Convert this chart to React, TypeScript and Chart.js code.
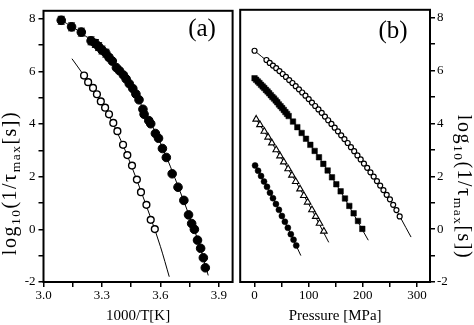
import React, { useEffect, useRef } from 'react';
import { Chart, registerables } from 'chart.js';

Chart.register(...registerables);

// ---------- Panel (a): temperature dependence ----------
const invTempFilled = [3.091, 3.144, 3.194, 3.244, 3.266, 3.283, 3.300, 3.320, 3.336, 3.353, 3.374, 3.390, 3.410, 3.424, 3.440, 3.458, 3.474, 3.490, 3.510, 3.516, 3.540, 3.550, 3.574, 3.590, 3.610, 3.630, 3.660, 3.690, 3.720, 3.744, 3.760, 3.774, 3.790, 3.806, 3.820, 3.830];
const logRateFilled = [7.94, 7.69, 7.49, 7.16, 7.06, 6.94, 6.81, 6.69, 6.53, 6.39, 6.14, 6.02, 5.86, 5.71, 5.53, 5.35, 5.14, 4.92, 4.56, 4.37, 4.13, 4.01, 3.64, 3.46, 3.07, 2.73, 2.11, 1.60, 1.10, 0.55, 0.22, 0.00, -0.41, -0.72, -1.08, -1.46];
const errFilled = [0.15, 0.15, 0.15, 0.15, 0.15, 0.15, 0.15, 0.15, 0.1, 0, 0, 0, 0, 0, 0, 0, 0, 0, 0, 0, 0, 0, 0, 0, 0, 0, 0, 0, 0, 0, 0, 0, 0, 0, 0, 0];
const invTempOpen = [3.208, 3.229, 3.254, 3.274, 3.294, 3.316, 3.336, 3.358, 3.379, 3.408, 3.430, 3.454, 3.479, 3.500, 3.528, 3.550, 3.571];
const logRateOpen = [5.84, 5.59, 5.37, 5.13, 4.86, 4.62, 4.37, 4.04, 3.73, 3.21, 2.82, 2.42, 1.89, 1.41, 0.93, 0.36, 0.01];
const fitFilledX = [3.09, 3.2, 3.3, 3.4, 3.5, 3.6, 3.7, 3.8, 3.845];
const fitFilledY = [7.95, 7.43, 6.80, 5.95, 4.75, 3.28, 1.45, -0.60, -1.75];
const fitOpenX = [3.146, 3.2, 3.3, 3.4, 3.5, 3.6, 3.645];
const fitOpenY = [6.48, 5.92, 4.80, 3.33, 1.45, -0.66, -1.80];

// ---------- Panel (b): pressure dependence ----------
const pressOpenCircle = [0, 22, 28, 34, 40, 46, 52, 58, 64, 70, 76, 82, 88, 94, 100, 106, 112, 118, 124, 130, 136, 142, 148, 154, 160, 166, 172, 178, 184, 190, 196, 202, 208, 214, 220, 226, 232, 238, 244, 250, 256, 262, 268];
const logOpenCircle = [6.75, 6.40, 6.29, 6.19, 6.09, 5.98, 5.87, 5.76, 5.64, 5.53, 5.41, 5.29, 5.17, 5.05, 4.92, 4.79, 4.66, 4.53, 4.40, 4.26, 4.12, 3.98, 3.84, 3.70, 3.55, 3.41, 3.26, 3.10, 2.95, 2.79, 2.64, 2.48, 2.32, 2.15, 1.99, 1.82, 1.65, 1.48, 1.30, 1.13, 0.92, 0.72, 0.48];
const pressSquare = [0, 3, 6, 9, 12, 15, 18, 21, 24, 27, 30, 33, 36, 39, 42, 45, 48, 51, 54, 57, 60, 63, 71, 79, 87, 95, 103, 111, 119, 127, 135, 143, 151, 159, 167, 175, 183, 191, 199];
const logSquare = [5.71, 5.65, 5.59, 5.53, 5.46, 5.40, 5.34, 5.27, 5.21, 5.14, 5.07, 5.00, 4.94, 4.87, 4.80, 4.72, 4.65, 4.58, 4.51, 4.43, 4.36, 4.28, 4.07, 3.86, 3.64, 3.42, 3.19, 2.96, 2.72, 2.47, 2.22, 1.96, 1.70, 1.43, 1.16, 0.88, 0.60, 0.31, 0.01];
const pressTriangle = [3, 10, 18, 25, 32, 40, 47, 54, 62, 69, 76, 84, 91, 98, 106, 113, 120, 128];
const logTriangle = [4.16, 3.95, 3.70, 3.48, 3.26, 3.00, 2.77, 2.54, 2.28, 2.04, 1.80, 1.52, 1.27, 1.02, 0.73, 0.48, 0.22, -0.08];
const pressFilledCircle = [1, 6.5, 12, 17.5, 23, 28.5, 34, 39.5, 45, 50.5, 56, 61.5, 67, 72, 77];
const logFilledCircle = [2.41, 2.21, 2.01, 1.80, 1.60, 1.38, 1.17, 0.95, 0.73, 0.50, 0.28, 0.05, -0.19, -0.40, -0.62];
const fitOpenCircleX = [0, 50, 100, 150, 200, 250, 289];
const fitOpenCircleY = [6.75, 5.90, 4.92, 3.80, 2.53, 1.13, -0.30];
const fitSquareX = [0, 50, 100, 150, 210];
const fitSquareY = [5.71, 4.60, 3.28, 1.73, -0.42];
const fitTriangleX = [3, 50, 100, 137];
const fitTriangleY = [4.16, 2.68, 0.95, -0.50];
const fitFilledCircleX = [1, 40, 60, 85.5];
const fitFilledCircleY = [2.41, 0.93, 0.11, -1.0];

// ---------- ticks ----------
const xTicksA = [3.0, 3.15, 3.3, 3.45, 3.6, 3.75, 3.9];
const xLabelsA = ['3.0', '', '3.3', '', '3.6', '', '3.9'];
const xTicksB = [0, 50, 100, 150, 200, 250, 300];
const xLabelsB = ['0', '', '100', '', '200', '', '300'];
const yTicks = [-2, -1, 0, 1, 2, 3, 4, 5, 6, 7, 8];
const yLabels = ['-2', '', '0', '', '2', '', '4', '', '6', '', '8'];

const FAM = "'Liberation Serif', 'DejaVu Serif', serif";
const zip = (xs: number[], ys: number[]) => xs.map((x, i) => ({ x, y: ys[i] }));

const titleSegs = [
  { t: 'log', sub: false },
  { t: '10', sub: true },
  { t: '(1/τ', sub: false },
  { t: 'max', sub: true },
  { t: '[s])', sub: false },
];

function drawRich(ctx: CanvasRenderingContext2D, cx: number, cy: number, rot: number, size: number, subSize: number, spacing: number) {
  ctx.save();
  ctx.translate(cx, cy);
  ctx.rotate(rot);
  ctx.fillStyle = '#000';
  ctx.textBaseline = 'alphabetic';
  ctx.textAlign = 'left';
  (ctx as any).letterSpacing = spacing + 'px';
  let total = 0;
  const widths = titleSegs.map((s) => {
    ctx.font = `${s.sub ? subSize : size}px ${FAM}`;
    const w = ctx.measureText(s.t).width;
    total += w;
    return w;
  });
  let x = -total / 2;
  titleSegs.forEach((s, i) => {
    ctx.font = `${s.sub ? subSize : size}px ${FAM}`;
    ctx.fillText(s.t, x, s.sub ? size * 0.22 : 0);
    x += widths[i];
  });
  ctx.restore();
}

function tickSetter(values: number[]) {
  return (scale: any) => {
    scale.ticks = values.map((v) => ({ value: v }));
  };
}

function axisCommon(labels: string[], values: number[]) {
  return {
    type: 'linear' as const,
    afterBuildTicks: tickSetter(values),
    border: { display: false },
    grid: { drawOnChartArea: false, drawTicks: true, tickLength: 5, color: '#000', lineWidth: 1.5 },
    ticks: {
      autoSkip: false,
      maxRotation: 0,
      color: '#000',
      font: { size: 13, family: FAM },
      callback: (_v: any, i: number) => labels[i],
    },
  };
}

function framePlugin(kind: 'a' | 'b') {
  return {
    id: 'frame' + kind,
    afterDatasetsDraw(chart: any) {
      if (kind !== 'a') return;
      const ctx = chart.ctx as CanvasRenderingContext2D;
      const xs = chart.scales.x;
      const ys = chart.scales.y;
      ctx.save();
      ctx.strokeStyle = '#000';
      ctx.lineWidth = 1;
      invTempFilled.forEach((xv, i) => {
        const e = errFilled[i];
        if (!e) return;
        const px = xs.getPixelForValue(xv);
        const top = ys.getPixelForValue(logRateFilled[i] + e);
        const bot = ys.getPixelForValue(logRateFilled[i] - e);
        ctx.beginPath();
        ctx.moveTo(px, top);
        ctx.lineTo(px, bot);
        ctx.moveTo(px - 3.5, top);
        ctx.lineTo(px + 3.5, top);
        ctx.moveTo(px - 3.5, bot);
        ctx.lineTo(px + 3.5, bot);
        ctx.stroke();
      });
      ctx.restore();
    },
    afterDraw(chart: any) {
      const ctx = chart.ctx as CanvasRenderingContext2D;
      const a = chart.chartArea;
      ctx.save();
      ctx.strokeStyle = '#000';
      ctx.lineWidth = 2;
      ctx.strokeRect(a.left, a.top, a.right - a.left, a.bottom - a.top);
      ctx.fillStyle = '#000';
      ctx.font = `25px ${FAM}`;
      ctx.textAlign = 'center';
      ctx.textBaseline = 'middle';
      if (kind === 'a') {
        ctx.fillText('(a)', 202, 29);
        ctx.restore();
        drawRich(ctx, 15.5, 183, -Math.PI / 2, 20, 13.5, 1.5);
      } else {
        ctx.fillText('(b)', 158, 31);
        ctx.restore();
        drawRich(ctx, 223, 187, Math.PI / 2, 20, 13.5, 1.5);
      }
    },
  };
}

const baseOptions = {
  animation: false as const,
  responsive: false,
  maintainAspectRatio: false,
  events: [] as any[],
  plugins: { legend: { display: false }, tooltip: { enabled: false } },
};

export default function App() {
  const refA = useRef<HTMLCanvasElement>(null);
  const refB = useRef<HTMLCanvasElement>(null);

  useEffect(() => {
    Chart.defaults.font.family = FAM;
    Chart.defaults.color = '#000';

    const chartA = new Chart(refA.current as HTMLCanvasElement, {
      type: 'scatter',
      data: {
        datasets: [
          { data: zip(invTempFilled, logRateFilled), pointStyle: 'circle', pointRadius: 4.3, backgroundColor: '#000', borderColor: '#000', borderWidth: 1 },
          { data: zip(invTempOpen, logRateOpen), pointStyle: 'circle', pointRadius: 3.4, backgroundColor: '#fff', borderColor: '#000', borderWidth: 1.4 },
          { data: zip(fitFilledX, fitFilledY), showLine: true, pointRadius: 0, borderColor: '#000', borderWidth: 1, cubicInterpolationMode: 'monotone' },
          { data: zip(fitOpenX, fitOpenY), showLine: true, pointRadius: 0, borderColor: '#000', borderWidth: 1, cubicInterpolationMode: 'monotone' },
        ] as any,
      },
      options: {
        ...baseOptions,
        layout: { padding: { top: 1, right: 2, left: 0, bottom: 0 } },
        scales: {
          x: {
            ...axisCommon(xLabelsA, xTicksA),
            position: 'bottom',
            min: 3.0,
            max: 3.97,
            afterFit: (s: any) => { s.height = 43; },
            ticks: { ...axisCommon(xLabelsA, xTicksA).ticks, padding: 1 },
            title: { display: true, text: '1000/T[K]', font: { size: 15, family: FAM }, color: '#000', padding: 0 },
          },
          y: {
            ...axisCommon(yLabels, yTicks),
            position: 'left',
            min: -2,
            max: 8.3,
            afterFit: (s: any) => { s.width = 43.5; },
            ticks: { ...axisCommon(yLabels, yTicks).ticks, padding: 3 },
          },
        } as any,
      },
      plugins: [framePlugin('a')],
    });

    const chartB = new Chart(refB.current as HTMLCanvasElement, {
      type: 'scatter',
      data: {
        datasets: [
          { data: zip(pressOpenCircle, logOpenCircle), pointStyle: 'circle', pointRadius: 2.5, backgroundColor: '#fff', borderColor: '#000', borderWidth: 1.2 },
          { data: zip(pressSquare, logSquare), pointStyle: 'rect', pointRadius: 3.9, backgroundColor: '#000', borderColor: '#000', borderWidth: 0.5 },
          { data: zip(pressTriangle, logTriangle), pointStyle: 'triangle', pointRadius: 3.8, backgroundColor: '#fff', borderColor: '#000', borderWidth: 1.1 },
          { data: zip(pressFilledCircle, logFilledCircle), pointStyle: 'circle', pointRadius: 3, backgroundColor: '#000', borderColor: '#000', borderWidth: 0.5 },
          { data: zip(fitOpenCircleX, fitOpenCircleY), showLine: true, pointRadius: 0, borderColor: '#000', borderWidth: 1, cubicInterpolationMode: 'monotone' },
          { data: zip(fitSquareX, fitSquareY), showLine: true, pointRadius: 0, borderColor: '#000', borderWidth: 1, cubicInterpolationMode: 'monotone' },
          { data: zip(fitTriangleX, fitTriangleY), showLine: true, pointRadius: 0, borderColor: '#000', borderWidth: 1, cubicInterpolationMode: 'monotone' },
          { data: zip(fitFilledCircleX, fitFilledCircleY), showLine: true, pointRadius: 0, borderColor: '#000', borderWidth: 1, cubicInterpolationMode: 'monotone' },
        ] as any,
      },
      options: {
        ...baseOptions,
        layout: { padding: { top: 1, right: 0, left: 1, bottom: 0 } },
        scales: {
          x: {
            ...axisCommon(xLabelsB, xTicksB),
            position: 'bottom',
            min: -26.5,
            max: 324,
            afterFit: (s: any) => { s.height = 43; },
            ticks: { ...axisCommon(xLabelsB, xTicksB).ticks, padding: 1 },
            title: { display: true, text: 'Pressure [MPa]', font: { size: 15, family: FAM }, color: '#000', padding: 0 },
          },
          y: {
            ...axisCommon(yLabels, yTicks),
            position: 'right',
            min: -2,
            max: 8.3,
            afterFit: (s: any) => { s.width = 44; },
            ticks: { ...axisCommon(yLabels, yTicks).ticks, padding: 2 },
          },
        } as any,
      },
      plugins: [framePlugin('b')],
    });

    return () => {
      chartA.destroy();
      chartB.destroy();
    };
  }, []);

  return (
    <div style={{ position: 'absolute', left: 0, top: 0, width: 474, height: 325, background: '#fff', overflow: 'hidden' }}>
      <canvas ref={refA} width={238} height={325} style={{ position: 'absolute', left: 0, top: 0, width: 238, height: 325 }} />
      <canvas ref={refB} width={239} height={325} style={{ position: 'absolute', left: 235, top: 0, width: 239, height: 325 }} />
    </div>
  );
}
